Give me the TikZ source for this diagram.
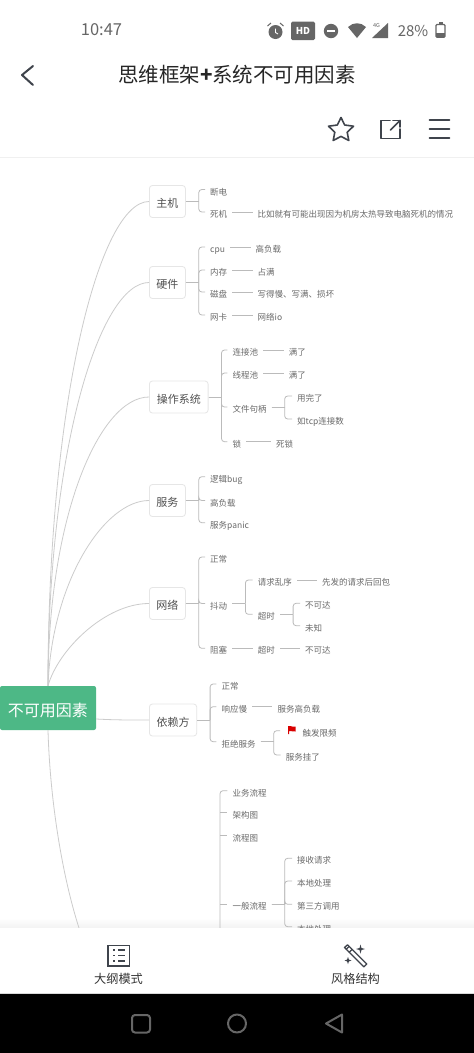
\documentclass[tikz,border=0pt]{standalone}
\usepackage{fontspec}
\setmainfont{Noto Sans CJK SC}
\usetikzlibrary{calc}
\definecolor{leaftext}{HTML}{6A6A6A}
\definecolor{boxtext}{HTML}{505050}
\definecolor{linegrey}{HTML}{BBBBBB}
\definecolor{curvegrey}{HTML}{CCCCCC}
\definecolor{boxline}{HTML}{E6E6E6}
\definecolor{rootgreen}{HTML}{4DB886}
\definecolor{icongrey}{HTML}{666666}
\definecolor{headdark}{HTML}{3F444C}
\tikzset{
  leaf/.style={anchor=west,inner xsep=5pt,inner ysep=0pt,text height=11pt,text depth=0pt,text=leaftext,font=\fontsize{8.5}{10}\selectfont},
  topic/.style={anchor=west,draw=boxline,line width=0.8pt,fill=white,rounded corners=3pt,inner sep=0pt,minimum height=32pt,text height=12pt,text depth=0pt,text=boxtext,font=\fontsize{11}{13}\selectfont},
  rootnode/.style={fill=rootgreen,rounded corners=2pt,inner sep=0pt,minimum width=96pt,minimum height=44pt,text height=16pt,text depth=0pt,text=white,font=\fontsize{16}{18}\selectfont},
  conn/.style={draw=linegrey,line width=0.8pt},
  curve/.style={draw=curvegrey,line width=0.8pt},
  hdrtext/.style={inner sep=0pt,text=icongrey,font=\fontsize{15}{17}\selectfont},
  ttl/.style={inner sep=0pt,text=black!85,font=\fontsize{20.5}{23}\selectfont},
  tabtext/.style={inner sep=0pt,text=black!80,font=\fontsize{12.2}{14}\selectfont},
  headicon/.style={draw=headdark,line width=1.6pt,line cap=round,line join=round},
  navicon/.style={draw=icongrey,line width=2pt,line join=round}
}
\newcommand{\fork}[2]{%
  \draw[conn] (#1.east) -- ++(13pt,0);
  \draw[conn,rounded corners=3pt] ([xshift=13pt]#1.east) |- (#2.west);}
\begin{document}
\begin{tikzpicture}[x=1pt,y=-1pt]
\useasboundingbox (0,0) rectangle (474,1053);
\fill[white] (0,0) rectangle (474,1053);
\shade[top color=white,bottom color=black!5] (0,918) rectangle (474,928);
\draw[black!6,line width=0.8pt] (0,157) -- (474,157);

% root and topics
\node[rootnode] (root) at (48,708) {不可用因素\hspace{2pt}};
\node[topic,minimum width=36pt] (host) at (149,201.5) {主机};
\node[topic,minimum width=36pt] (hw) at (149,282.5) {硬件};
\node[topic,minimum width=58.7pt] (os) at (149,397) {操作系统};
\node[topic,minimum width=36pt] (svc) at (149,500.5) {服务};
\node[topic,minimum width=36pt] (net) at (149,603.5) {网络};
\node[topic,minimum width=47.3pt] (dep) at (149,720) {依赖方};
\coordinate (below) at (79,928);

\draw[curve] (root.north) .. controls (48,400) and (100,201.5) .. (host.west);
\draw[curve] (root.north) .. controls (48,448) and (100,282.5) .. (hw.west);
\draw[curve] (root.north) .. controls (48,515) and (100,397) .. (os.west);
\draw[curve] (root.north) .. controls (52,580) and (105,500.5) .. (svc.west);
\draw[curve] (root.north) .. controls (58,650) and (105,603.5) .. (net.west);
\draw[curve] ([yshift=-11pt]root.east) .. controls (115,720) and (125,720) .. (dep.west);
\draw[curve] (root.south) .. controls (50,800) and (62,875) .. (below);

% host
\node[leaf] (h1) at (205,189.5) {断电};
\node[leaf] (h2) at (205,212) {死机};
\node[leaf] (h2a) at (252.5,212) {比如就有可能出现因为机房太热导致电脑死机的情况};
\fork{host}{h1}\fork{host}{h2}
\draw[conn] (h2) -- (h2a);

% hardware
\node[leaf] (w1) at (205,247) {cpu};
\node[leaf] (w1a) at (250.5,247) {高负载};
\node[leaf] (w2) at (205,270) {内存};
\node[leaf] (w2a) at (252.5,270) {占满};
\node[leaf] (w3) at (205,292) {磁盘};
\node[leaf] (w3a) at (252.5,292) {写得慢、写满、损坏};
\node[leaf] (w4) at (205,315) {网卡};
\node[leaf] (w4a) at (252.5,315) {网络io};
\fork{hw}{w1}\fork{hw}{w2}\fork{hw}{w3}\fork{hw}{w4}
\draw[conn] (w1) -- (w1a);
\draw[conn] (w2) -- (w2a);
\draw[conn] (w3) -- (w3a);
\draw[conn] (w4) -- (w4a);

% operating system
\node[leaf] (o1) at (227.3,350) {连接池};
\node[leaf] (o1a) at (283.7,350) {满了};
\node[leaf] (o2) at (227.3,373) {线程池};
\node[leaf] (o2a) at (283.7,373) {满了};
\node[leaf] (o3) at (227.3,407) {文件句柄};
\node[leaf] (o3a) at (292,396) {用完了};
\node[leaf] (o3b) at (292,419) {如tcp连接数};
\node[leaf] (o4) at (227.3,441.7) {锁\hspace{6pt}};
\node[leaf] (o4a) at (271,441.7) {死锁};
\fork{os}{o1}\fork{os}{o2}\fork{os}{o3}\fork{os}{o4}
\draw[conn] (o1) -- (o1a);
\draw[conn] (o2) -- (o2a);
\draw[conn] (o4) -- (o4a);
\fork{o3}{o3a}\fork{o3}{o3b}

% service
\node[leaf] (s1) at (205,476.7) {逻辑bug};
\node[leaf] (s2) at (205,500.5) {高负载};
\node[leaf] (s3) at (205,522.7) {服务panic};
\fork{svc}{s1}\fork{svc}{s2}\fork{svc}{s3}

% network
\node[leaf] (n1) at (205,557) {正常};
\node[leaf] (n2) at (205,603.5) {抖动};
\node[leaf] (n3) at (205,648.3) {阻塞};
\node[leaf] (n2a) at (252.7,580) {请求乱序};
\node[leaf] (n2aa) at (317,580) {先发的请求后回包};
\node[leaf] (n2b) at (252.7,614.3) {超时};
\node[leaf] (n2b1) at (300,603.3) {不可达};
\node[leaf] (n2b2) at (300,625.7) {未知};
\node[leaf] (n3a) at (252.7,648.3) {超时};
\node[leaf] (n3b) at (300,648.3) {不可达};
\fork{net}{n1}\fork{net}{n2}\fork{net}{n3}
\fork{n2}{n2a}\fork{n2}{n2b}
\draw[conn] (n2a) -- (n2aa);
\fork{n2b}{n2b1}\fork{n2b}{n2b2}
\draw[conn] (n3) -- (n3a);
\draw[conn] (n3a) -- (n3b);

% dependency
\node[leaf] (d1) at (216.3,684) {正常};
\node[leaf] (d2) at (216.3,706.7) {响应慢};
\node[leaf] (d2a) at (272.3,706.7) {服务高负载};
\node[leaf] (d3) at (216.3,741.7) {拒绝服务};
\node[leaf] (d3a) at (280,730.7) {\hspace{17.3pt}触发限频};
\node[leaf] (d3b) at (280.7,755) {服务挂了};
\fork{dep}{d1}\fork{dep}{d2}\fork{dep}{d3}
\draw[conn] (d2) -- (d2a);
\fork{d3}{d3a}\fork{d3}{d3b}
\fill[red!85!black] (288,726) .. controls (290,725) and (292,727.5) .. (295.6,726.5) -- (295.6,731.5) .. controls (292.5,732.5) and (291,730) .. (289,731) -- (289,734) -- (288,734) -- cycle;

% clipped group
\coordinate (spineend) at (220,940);
\node[leaf] (g1) at (227.3,790.7) {业务流程};
\node[leaf] (g2) at (227.3,812.7) {架构图};
\node[leaf] (g3) at (227.3,835.7) {流程图};
\node[leaf] (g4) at (227.3,904.3) {一般流程};
\node[leaf] (g4a) at (292,858.3) {接收请求};
\node[leaf] (g4b) at (292,881) {本地处理};
\node[leaf] (g4c) at (292,904.3) {第三方调用};
\node[leaf] (g4d) at (292,926.7) {本地处理};
\draw[conn,rounded corners=3pt] (spineend) |- (g1.west);
\draw[conn] (spineend |- g2.west) -- (g2.west);
\draw[conn] (spineend |- g3.west) -- (g3.west);
\draw[conn] (spineend |- g4.west) -- (g4.west);
\fork{g4}{g4a}\fork{g4}{g4b}\fork{g4}{g4c}\fork{g4}{g4d}

% status bar
\node[hdrtext,font=\fontsize{16.5}{18}\selectfont] (clock) at (101.5,30) {10:47};
\fill[icongrey] (275.5,32) circle (7);
\draw[white,line width=0.9pt] (275.5,28.5) -- (275.5,32.5) -- (278,34);
\draw[icongrey,line width=1pt] (267.5,26) -- (271,23);
\draw[icongrey,line width=1pt] (283.5,26) -- (280,23);
\fill[icongrey,rounded corners=1.5pt] (291,21.5) rectangle (315,40);
\node[inner sep=0pt,text=white,font=\bfseries\fontsize{9.5}{11}\selectfont] (hd) at (303,30.5) {HD};
\fill[icongrey] (331,31) circle (7.2);
\draw[white,line width=1.6pt] (327,31) -- (335,31);
\fill[icongrey] (348,27) .. controls (353,22) and (361,22) .. (366,27) -- (357,38) -- cycle;
\fill[icongrey] (372,38) -- (388,23) -- (388,38) -- cycle;
\fill[white] (372,20) rectangle (381,29);
\node[inner sep=0pt,text=icongrey,font=\fontsize{5.5}{6}\selectfont] (net4g) at (376.5,25.5) {4G};
\node[hdrtext] (pct) at (413,30.5) {28\%};
\draw[icongrey,line width=1.2pt,rounded corners=1pt] (436,24.5) rectangle (445,37.3);
\fill[icongrey] (438.5,22.3) rectangle (442.5,24.5);
\fill[icongrey] (436,33) rectangle (445,37.3);

% title bar
\draw[headicon,line width=2pt] (33,66) -- (22,75) -- (33,85);
\node[ttl] (title) at (237,75) {思维框架\textbf{+}系统不可用因素};
\draw[headicon] (341,117.5) -- (344.7,125) -- (353.5,126.2) -- (347.2,132.2) -- (348.8,140.5) -- (341,136.4) -- (333.2,140.5) -- (334.8,132.2) -- (328.5,126.2) -- (337.3,125) -- cycle;
\draw[headicon] (390,120.5) -- (381,120.5) -- (381,138.5) -- (400,138.5) -- (400,129);
\draw[headicon] (390.5,130) -- (400,120.5);
\draw[headicon] (393,120.5) -- (400,120.5) -- (400,127);
\draw[headicon] (429.5,120) -- (449.5,120);
\draw[headicon] (429.5,129) -- (449.5,129);
\draw[headicon] (429.5,138) -- (449.5,138);

% bottom tab bar
\fill[white] (0,928) rectangle (474,993);
\fill[black] (0,993) rectangle (474,1053);
\draw[black!15,line width=0.8pt] (0,993) -- (474,993);
\draw[headicon,line cap=butt,line join=miter] (107.8,945.5) rectangle (129.3,966);
\foreach \yy in {950,955.3,960.7}{
  \fill[headdark] (113,\yy-0.8) rectangle (115,\yy+0.8);
  \fill[headdark] (117.5,\yy-0.8) rectangle (125,\yy+0.8);
}
\node[tabtext] (tab1) at (118.5,979) {大纲模式};
\draw[headdark,line width=1.3pt,line join=round] (344.5,947.5) -- (347.5,944.8) -- (366.8,964) -- (363.8,966.8) -- cycle;
\draw[headdark,line width=1.2pt] (349,946.5) -- (346,949.5);
\draw[headdark,line width=1.2pt] (352,949.5) -- (349,952.5);
\fill[headdark] (360.5,944.5) -- (361.5,948) -- (365,949) -- (361.5,950) -- (360.5,953.5) -- (359.5,950) -- (356,949) -- (359.5,948) -- cycle;
\fill[headdark] (348,957) -- (348.9,959.6) -- (351.5,960.5) -- (348.9,961.4) -- (348,964) -- (347.1,961.4) -- (344.5,960.5) -- (347.1,959.6) -- cycle;
\node[tabtext] (tab2) at (355.5,979) {风格结构};

% navigation bar
\draw[navicon,rounded corners=3pt] (132,1015) rectangle (150,1032.5);
\draw[navicon] (237,1023.5) circle (9);
\draw[navicon] (342,1014.5) -- (326,1023.5) -- (342,1032.5) -- cycle;
\end{tikzpicture}
\end{document}
